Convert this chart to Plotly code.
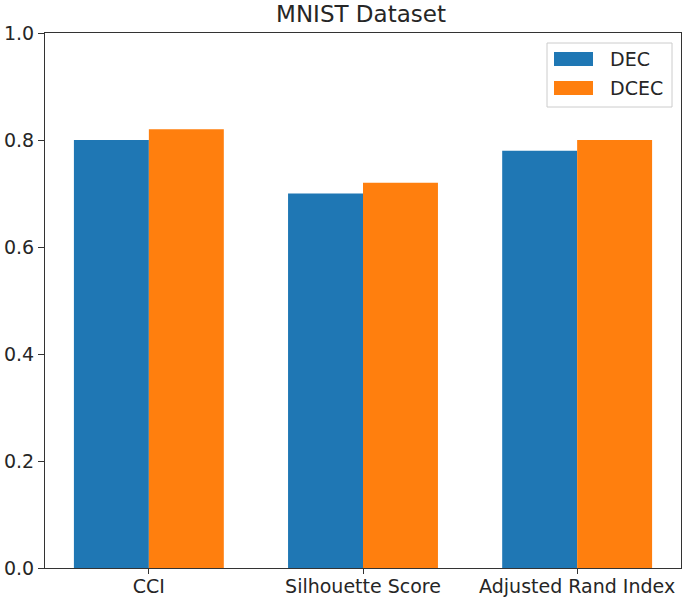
import plotly.graph_objects as go

categories = ["CCI", "Silhouette Score", "Adjusted Rand Index"]
series_names = ["DEC", "DCEC"]
dec_values = [0.80, 0.70, 0.78]
dcec_values = [0.82, 0.72, 0.80]
colors = ["#1f77b4", "#ff7f0e"]
y_ticks = [0.0, 0.2, 0.4, 0.6, 0.8, 1.0]

FONT = "DejaVu Sans"
TXT = "#262626"
fig = go.Figure()
for name, vals, col in zip(series_names, [dec_values, dcec_values], colors):
    fig.add_trace(go.Bar(x=list(range(len(categories))), y=vals, name=name,
                         marker=dict(color=col, line=dict(width=0)),
                         showlegend=False))

fig.update_layout(
    width=685, height=605,
    margin=dict(l=45, r=4, t=33, b=37),
    paper_bgcolor="white", plot_bgcolor="white",
    barmode="group", bargap=0.3, bargroupgap=0,
    font=dict(family=FONT, size=19, color=TXT),
    title=dict(text="MNIST Dataset", x=361/685, xanchor="center", y=1-14/605, yanchor="middle",
               font=dict(family=FONT, size=23, color=TXT)),
    xaxis=dict(range=[-0.485, 2.485], tickvals=list(range(len(categories))), ticktext=categories,
               showline=True, linecolor="#333", linewidth=1.2, mirror=True, automargin=False,
               ticks="outside", ticklen=5, tickcolor="#333", showgrid=False, zeroline=False,
               tickfont=dict(size=19), ticklabelstandoff=-4),
    yaxis=dict(range=[0, 1.0], tickvals=y_ticks, tickformat=".1f", automargin=False,
               showline=True, linecolor="#333", linewidth=1.2, mirror=True,
               ticks="outside", ticklen=6, tickcolor="#333", showgrid=False, zeroline=False,
               tickfont=dict(size=19)),
)

# legend (matplotlib style)
fig.add_shape(type="rect", xref="paper", yref="paper",
              x0=(547-45)/636, x1=(672-45)/636, y0=(568-107)/535, y1=(568-43)/535,
              line=dict(color="#ccc", width=1), fillcolor="rgba(255,255,255,0.8)", layer="above")
for i, (name, col) in enumerate(zip(series_names, colors)):
    cy = 59 + i * 29
    fig.add_shape(type="rect", xref="paper", yref="paper",
                  x0=(554-45)/636, x1=(593-45)/636,
                  y0=(568-(cy+7))/535, y1=(568-(cy-7))/535,
                  line=dict(width=0), fillcolor=col, layer="above")
    fig.add_annotation(xref="paper", yref="paper", x=(608-45)/636, y=(568-cy)/535,
                       text=name, showarrow=False, xanchor="left", yanchor="middle",
                       font=dict(family=FONT, size=19, color=TXT))

fig.write_html("out.html", config={"displayModeBar": False},
               post_script="document.body.style.margin='0px';")
